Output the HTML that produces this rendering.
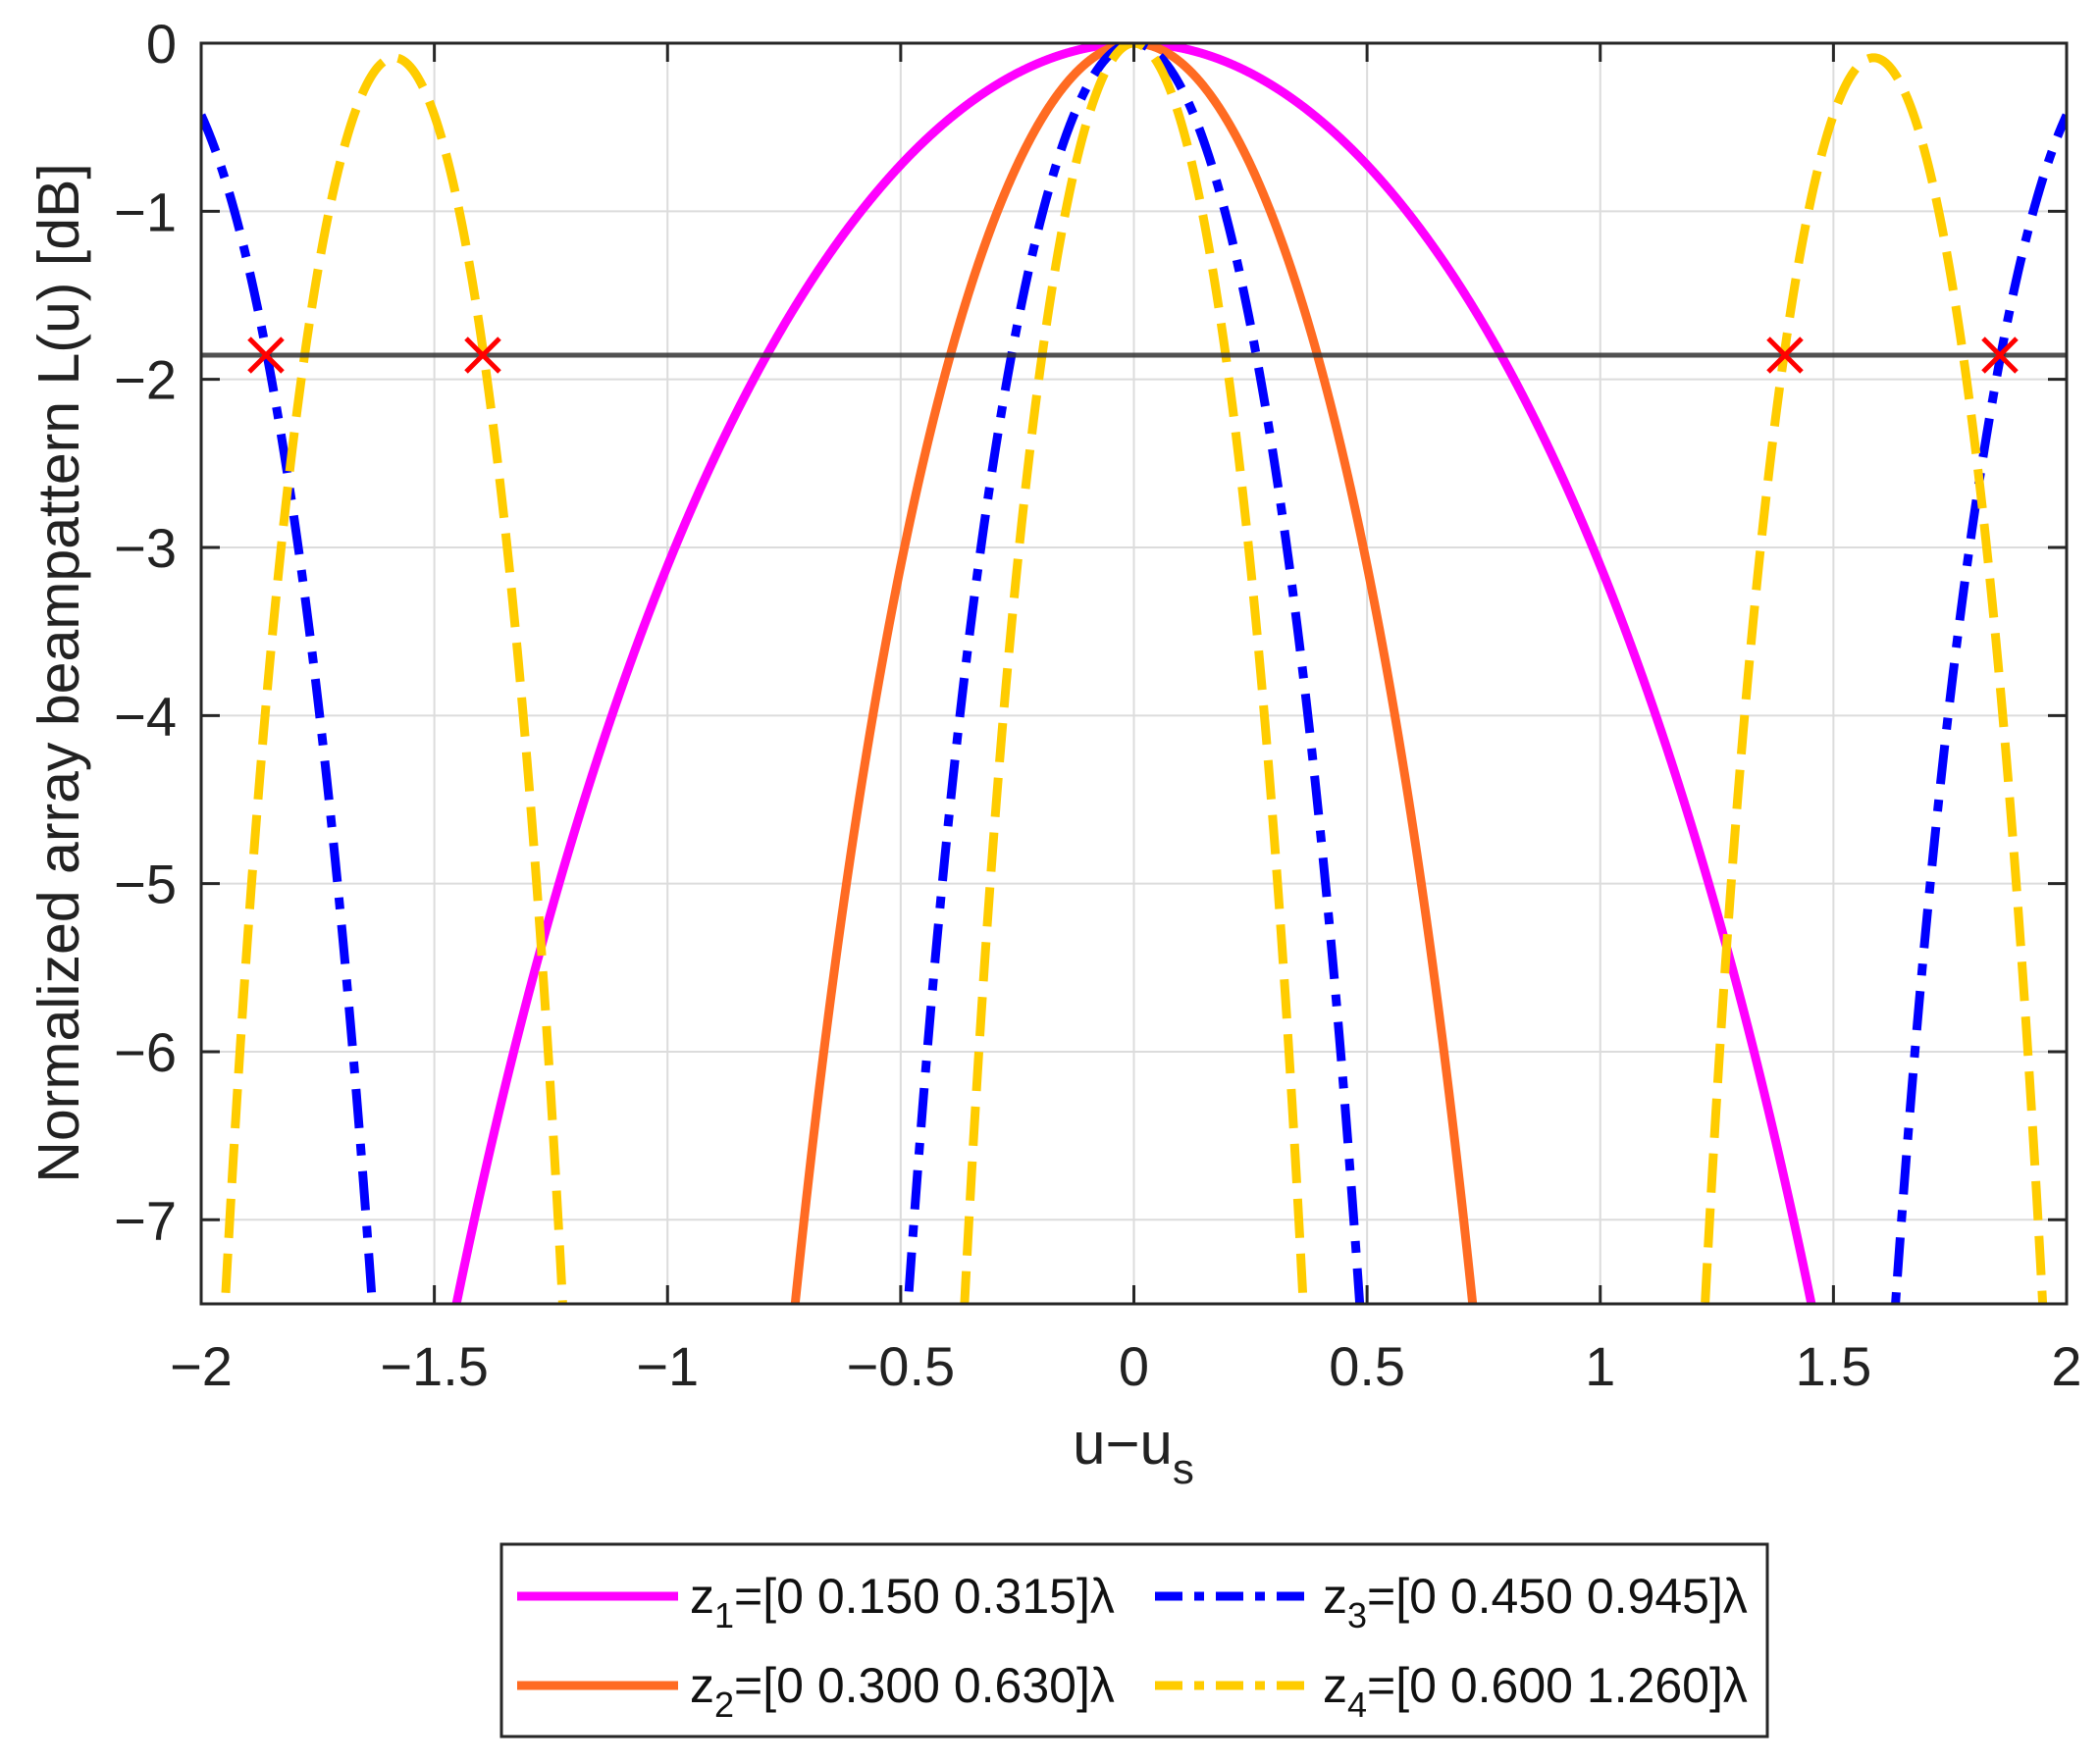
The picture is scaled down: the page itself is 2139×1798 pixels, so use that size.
<!DOCTYPE html>
<html><head><meta charset="utf-8"><style>
html,body{margin:0;padding:0;background:#fff;}
svg{display:block;font-family:"Liberation Sans",Arial,sans-serif;}
</style></head><body>
<svg id="s" width="2139" height="1798" viewBox="0 0 2139 1798" xmlns="http://www.w3.org/2000/svg">
<defs><clipPath id="c"><rect x="205" y="44" width="1901" height="1285"/></clipPath></defs>
<rect width="2139" height="1798" fill="#fff"/>
<g id="grid" stroke="#dcdcdc" stroke-width="2"></g>
<g id="curves" clip-path="url(#c)" fill="none" stroke-width="9"></g>
<line x1="205" y1="362" x2="2106" y2="362" stroke="#333" stroke-opacity="0.85" stroke-width="5"/>
<g id="marks" stroke="#ff0000" stroke-width="5"></g>
<rect x="205" y="44" width="1901" height="1285" fill="none" stroke="#262626" stroke-width="3"/>
<g id="ticks" stroke="#262626" stroke-width="3"></g>
<g id="labels" fill="#222" font-size="56"></g>
<text x="1155" y="1492" font-size="60" fill="#222" text-anchor="middle">u−u<tspan font-size="44" dy="20">s</tspan></text>
<text transform="translate(80,686) rotate(-90)" font-size="59" fill="#222" text-anchor="middle">Normalized array beampattern L(u) [dB]</text>
<rect x="511" y="1574" width="1290" height="196" fill="#fff" stroke="#262626" stroke-width="3"/>
<line x1="527" y1="1627" x2="691" y2="1627" stroke="#ff00ff" stroke-width="9"/>
<line x1="527" y1="1718" x2="691" y2="1718" stroke="#ff6b22" stroke-width="9"/>
<line x1="1177" y1="1627" x2="1333" y2="1627" stroke="#0000ff" stroke-width="9" stroke-dasharray="28,12,10,12"/>
<line x1="1177" y1="1718" x2="1333" y2="1718" stroke="#ffcc00" stroke-width="9" stroke-dasharray="28,12,10,12"/>
<g font-size="50" fill="#111">
<text x="703" y="1644">z<tspan font-size="36" dy="15">1</tspan><tspan dy="-15">=[0 0.150 0.315]λ</tspan></text>
<text x="703" y="1735">z<tspan font-size="36" dy="15">2</tspan><tspan dy="-15">=[0 0.300 0.630]λ</tspan></text>
<text x="1348" y="1644">z<tspan font-size="36" dy="15">3</tspan><tspan dy="-15">=[0 0.450 0.945]λ</tspan></text>
<text x="1348" y="1735">z<tspan font-size="36" dy="15">4</tspan><tspan dy="-15">=[0 0.600 1.260]λ</tspan></text>
</g>
</svg>
<script>
const NS="http://www.w3.org/2000/svg";
const X=u=>205+(u+2)*475.25, Y=d=>44-d*171.33;
function el(p,t,a,txt){const e=document.createElementNS(NS,t);for(const k in a)e.setAttribute(k,a[k]);if(txt!==undefined)e.textContent=txt;document.getElementById(p).appendChild(e);return e;}
const xt=[-2,-1.5,-1,-0.5,0,0.5,1,1.5,2];
xt.forEach(v=>{if(v>-2&&v<2)el("grid","line",{x1:X(v),y1:44,x2:X(v),y2:1329});
 el("ticks","line",{x1:X(v),y1:1329,x2:X(v),y2:1310});el("ticks","line",{x1:X(v),y1:44,x2:X(v),y2:63});
 el("labels","text",{x:X(v),y:1412,"text-anchor":"middle"},(v<0?"−":"")+Math.abs(v));});
for(let d=0;d>=-7;d--){const y=Y(d);if(d<0)el("grid","line",{x1:205,y1:y,x2:2106,y2:y});
 el("ticks","line",{x1:205,y1:y,x2:224,y2:y});el("ticks","line",{x1:2106,y1:y,x2:2087,y2:y});
 el("labels","text",{x:180,y:y+20,"text-anchor":"end"},(d<0?"−":"")+Math.abs(d));}
const ser=[[0.15,"#ff00ff",""],[0.3,"#ff6b22",""],[0.45,"#0000ff","40,16,12,16"],[0.6,"#ffcc00","40,16"]];
ser.forEach(([a,c,da])=>{let p="";let N=4000;
 for(let i=0;i<=N;i++){const u=-2+4*i/N;const p1=2*Math.PI*a*u,p2=2*Math.PI*2.1*a*u;
  const re=1+Math.cos(p1)+Math.cos(p2),im=Math.sin(p1)+Math.sin(p2);
  let db=20*Math.log10(Math.max(Math.hypot(re,im)/3,1e-6));if(db<-9)db=-9;
  p+=(i?"L":"M")+X(u).toFixed(2)+" "+Y(db).toFixed(2);}
 const at={d:p,stroke:c};if(da)at["stroke-dasharray"]=da;el("curves","path",at);});
[271,492,1819,2038].forEach(x=>{el("marks","line",{x1:x-17,y1:345,x2:x+17,y2:379});el("marks","line",{x1:x-17,y1:379,x2:x+17,y2:345});});
</script>
</body></html>
